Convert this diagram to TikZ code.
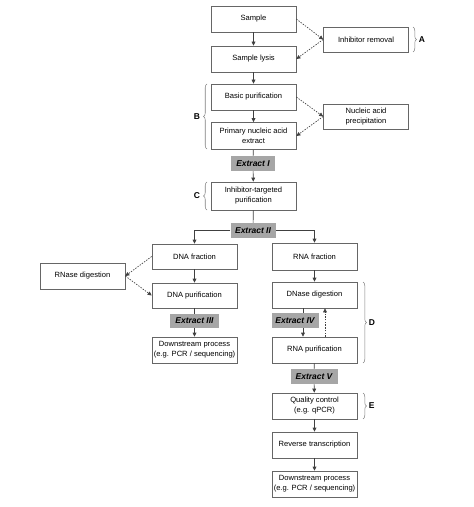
\documentclass[tikz,border=0pt]{standalone}
\usepackage{fontspec}
\setmainfont{Liberation Sans}
\usetikzlibrary{arrows.meta,calc,decorations.pathreplacing,positioning}

\tikzset{
  stepbox/.style={draw=black!60, line width=0.024cm, fill=white, align=center,
    minimum width=85bp, minimum height=26bp, inner sep=1bp,
    font=\fontsize{7.6}{10}\selectfont},
  extractbox/.style={fill=black!35, draw=none, minimum height=15bp, inner sep=1.5bp,
    font=\fontsize{8.5}{10}\selectfont\bfseries\itshape},
  flow/.style={line width=0.024cm, draw=black!75},
  flowarrow/.style={flow, -{Triangle[length=4bp,width=3.8bp]}},
  sidearrow/.style={flowarrow, dash pattern=on 1.4bp off 1.3bp},
  bracket/.style={draw=black!50, line width=0.018cm, decorate,
    decoration={brace, amplitude=3.5bp}},
  bracelabel/.style={font=\fontsize{8.5}{10}\selectfont\bfseries}
}

\begin{document}
\begin{tikzpicture}[x=1bp, y=-1bp]
                        \useasboundingbox (0,0) rectangle (474,507);
                        {\footnotesize

                        % Drawing box sample
                        \node [stepbox] (sample) at (253.5,19) {Sample};%

                        % Drawing box lysis
                        \node [stepbox] (lysis) at (253.5,59) {Sample lysis};%

                        % Drawing box inhibitor removal
                        \node [stepbox, minimum height=25bp] (inhib) at (366,39.5) {Inhibitor removal};%

                        % Drawing box basic purification
                        \node [stepbox] (basic) at (253.5,97) {Basic purification};%

                        % Drawing box primary extract
                        \node [stepbox, minimum height=27bp] (primary) at (253.5,136) {Primary nucleic acid\\extract};%

                        % Drawing box precipitation
                        \node [stepbox, minimum height=25bp] (precip) at (366,116.5) {Nucleic acid\\precipitation};%

                        % Drawing extract I
                        \node [extractbox, minimum width=44bp] (extI) at (253,163.5) {Extract I};%

                        % Drawing box inhibitor-targeted purification
                        \node [stepbox, minimum height=28bp] (target) at (253.5,196) {Inhibitor-targeted\\purification};%

                        % Drawing extract II
                        \node [extractbox, minimum width=45bp] (extII) at (253,230.5) {Extract II};%

                        % Drawing boxes of the DNA branch
                        \node [stepbox, minimum height=25bp] (dnafrac) at (194.5,256.5) {DNA fraction};%
                        \node [stepbox] (rnase) at (82.5,276) {RNase digestion};%
                        \node [stepbox, minimum height=25bp] (dnapur) at (194.5,295.5) {DNA purification};%
                        \node [extractbox, minimum width=49bp, minimum height=14bp] (extIII) at (194.5,321) {Extract III};%
                        \node [stepbox] (dnadown) at (194.5,350) {Downstream process\\(e.g. PCR / sequencing)};%

                        % Drawing boxes of the RNA branch
                        \node [stepbox, minimum height=27bp] (rnafrac) at (314.5,256.5) {RNA fraction};%
                        \node [stepbox] (dnase) at (314.5,295) {DNase digestion};%
                        \node [extractbox, minimum width=47bp] (extIV) at (295,320.5) {Extract IV};%
                        \node [stepbox] (rnapur) at (314.5,350) {RNA purification};%
                        \node [extractbox, minimum width=47bp] (extV) at (314,376.5) {Extract V};%
                        \node [stepbox] (quality) at (314.5,406) {Quality control\\(e.g. qPCR)};%
                        \node [stepbox] (revtrans) at (314.5,445) {Reverse transcription};%
                        \node [stepbox] (rnadown) at (314.5,484) {Downstream process\\(e.g. PCR / sequencing)};%

                        % Drawing main flow
                        \draw [flowarrow] (sample) -- (lysis);%
                        \draw [flowarrow] (lysis) -- (basic);%
                        \draw [flowarrow] (basic) -- (primary);%
                        \draw [flow] (primary) -- (extI);%
                        \draw [flowarrow] (extI) -- (target);%
                        \draw [flow] (target) -- (extII);%
                        \draw [flowarrow] (extII.west) -| (dnafrac.north);%
                        \draw [flowarrow] (extII.east) -| (rnafrac.north);%

                        % Drawing DNA branch flow
                        \draw [flowarrow] (dnafrac) -- (dnapur);%
                        \draw [flow] (dnapur) -- (extIII);%
                        \draw [flowarrow] (extIII) -- (dnadown);%

                        % Drawing RNA branch flow
                        \coordinate (tapIV) at (303,0);%
                        \coordinate (backIV) at (325,0);%
                        \draw [flowarrow] (rnafrac) -- (dnase);%
                        \draw [flow] (dnase.south -| tapIV) -- (extIV.north -| tapIV);%
                        \draw [flowarrow] (extIV.south -| tapIV) -- (rnapur.north -| tapIV);%
                        \draw [sidearrow] (rnapur.north -| backIV) -- (dnase.south -| backIV);%
                        \draw [flow] (rnapur) -- (extV);%
                        \draw [flowarrow] (extV) -- (quality);%
                        \draw [flowarrow] (quality) -- (revtrans);%
                        \draw [flowarrow] (revtrans) -- (rnadown);%

                        % Drawing side steps
                        \draw [sidearrow] (sample.east) -- (inhib.west);%
                        \draw [sidearrow] (inhib.west) -- (lysis.east);%
                        \draw [sidearrow] (basic.east) -- (precip.west);%
                        \draw [sidearrow] (precip.west) -- (primary.east);%
                        \draw [sidearrow] (dnafrac.west) -- (rnase.east);%
                        \draw [sidearrow] (rnase.east) -- (dnapur.west);%

                        % Drawing braces
                        \draw [bracket] (413,27) -- (413,52) node [midway, right=3bp, bracelabel] (labA) {A};%
                        \draw [bracket] (207,149) -- (207,84) node [midway, left=4bp, bracelabel] (labB) {B};%
                        \draw [bracket] (207,210) -- (207,182) node [midway, left=4bp, bracelabel] (labC) {C};%
                        \draw [bracket] (363,282) -- (363,363) node [midway, right=3bp, bracelabel] (labD) {D};%
                        \draw [bracket] (363,393) -- (363,419) node [midway, right=3bp, bracelabel] (labE) {E};%
                        }
\end{tikzpicture}
\end{document}
